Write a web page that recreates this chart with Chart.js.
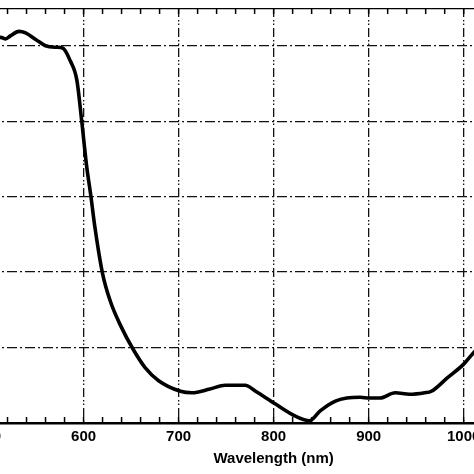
<!DOCTYPE html>
<html>
<head>
<meta charset="utf-8">
<script src="https://cdn.jsdelivr.net/npm/chart.js@4/dist/chart.umd.min.js"></script>
<style>
    html, body { margin: 0; padding: 0; background: #fff; overflow: hidden; width: 474px; height: 474px; }
    #wrap { position: absolute; left: -12px; top: 8px; }
</style>
</head>
<body>
<div id="wrap"><canvas id="specChart" width="571" height="466"></canvas></div>
<script>
let wavelength = [505, 513, 518, 523, 532, 539, 550, 560, 571, 578, 586, 593, 598, 603, 608, 612, 620, 628, 639, 652, 665, 679, 702, 714, 733, 749, 770, 781, 802, 823, 838, 849, 865, 877, 891, 901, 912, 928, 943, 959, 966, 983, 1000, 1009, 1020, 1035];
let signal = [51.0, 51.1, 50.9, 51.3, 51.9, 51.7, 50.8, 50.0, 49.8, 49.7, 48.0, 45.4, 40.1, 34.3, 29.8, 25.9, 19.8, 16.2, 12.9, 9.8, 7.3, 5.6, 4.2, 4.0, 4.5, 5.0, 5.0, 4.2, 2.5, 0.9, 0.3, 1.6, 2.9, 3.3, 3.4, 3.3, 3.3, 4.0, 3.8, 4.0, 4.2, 6.0, 7.8, 9.1, 10.6, 12.5];
let xTicks = [500, 600, 700, 800, 900, 1000, 1100];
let yTicks = [0, 10, 20, 30, 40, 50];

// inward minor ticks + top frame line
let frameTicks = {
    id: 'frameTicks',
    afterDraw(chart) {
        let ctx = chart.ctx;
        let area = chart.chartArea;
        let xs = chart.scales.x;
        ctx.save();
        ctx.strokeStyle = '#000';
        ctx.lineWidth = 1.5;
        for (let v = xs.min; v <= xs.max; v += 20) {
            let px = xs.getPixelForValue(v);
            ctx.beginPath();
            ctx.moveTo(px, area.bottom);
            ctx.lineTo(px, area.bottom - 6);
            ctx.moveTo(px, area.top);
            ctx.lineTo(px, area.top + 6);
            ctx.stroke();
        }
        ctx.lineWidth = 2.5;
        ctx.beginPath();
        ctx.moveTo(area.left, area.top);
        ctx.lineTo(area.right, area.top);
        ctx.stroke();
        ctx.restore();
    }
};

function buildChart(canvas) {
    return new Chart(canvas.getContext('2d'), {
        type: 'line',
        data: {
            datasets: [{
                data: wavelength.map((w, i) => ({ x: w, y: signal[i] })),
                borderColor: '#000',
                borderWidth: 3.6,
                pointRadius: 0,
                fill: false,
                cubicInterpolationMode: 'monotone'
            }]
        },
        options: {
            responsive: false,
            animation: false,
            layout: { autoPadding: false, padding: 0 },
            plugins: { legend: { display: false }, tooltip: { enabled: false } },
            scales: {
                x: {
                    type: 'linear',
                    min: 500,
                    max: 1100,
                    afterBuildTicks: axis => { axis.ticks = xTicks.map(v => ({ value: v })); },
                    ticks: {
                        color: '#000',
                        padding: 5,
                        maxRotation: 0,
                        autoSkip: false,
                        callback: v => String(v),
                        font: { family: 'Liberation Sans, Arial', size: 15, weight: 'bold' }
                    },
                    grid: {
                        drawTicks: false,
                        color: '#111',
                        lineWidth: 1.3
                    },
                    border: { color: '#000', width: 2.5, dash: [9, 3, 1.5, 2, 1.5, 3] },
                    title: {
                        display: true,
                        text: 'Wavelength (nm)',
                        color: '#000',
                        padding: { top: 0, bottom: 7 },
                        font: { family: 'Liberation Sans, Arial', size: 15, weight: 'bold', lineHeight: 1.07 }
                    }
                },
                y: {
                    min: 0,
                    max: 55,
                    afterBuildTicks: axis => { axis.ticks = yTicks.map(v => ({ value: v })); },
                    ticks: { display: false },
                    grid: {
                        drawTicks: false,
                        color: '#111',
                        lineWidth: 1.3
                    },
                    border: { display: false, dash: [10, 3, 2, 3] }
                }
            }
        },
        plugins: [frameTicks]
    });
}

document.addEventListener("DOMContentLoaded", function() {
    let canvas = document.getElementById('specChart');
    let chart = buildChart(canvas);

    // measure the side padding, then rebuild so 500 nm sits just off the left edge
    // and the plot spans 500-1100 nm over 571 px
    let padL = chart.chartArea.left;
    let padR = chart.width - chart.chartArea.right;
    chart.destroy();
    canvas.width = 571 + padL + padR;
    canvas.height = 466;
    document.getElementById('wrap').style.left = (-12 - padL) + 'px';
    buildChart(canvas);
});
</script>
</body>
</html>
